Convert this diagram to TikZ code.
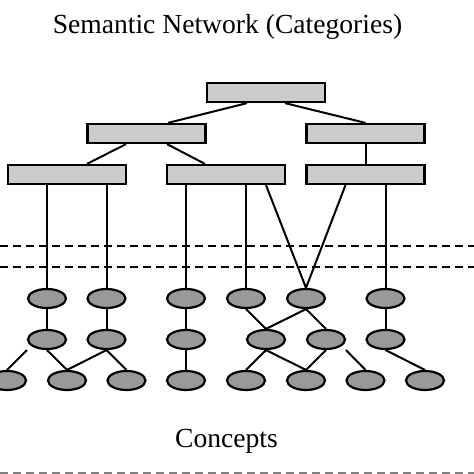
\documentclass[tikz,border=0pt]{standalone}
\usepackage{fontspec}
\setmainfont{Liberation Serif}
\usetikzlibrary{shapes.geometric}
\tikzset{
    basic/.style   = {draw, line width=2.2pt, inner sep=0pt},
    category/.style = {basic, rectangle, fill=black!20, minimum width=118pt, minimum height=19pt},
    concept/.style  = {basic, ellipse, fill=black!40, minimum width=38pt, minimum height=19pt},
    link/.style    = {line width=2pt},
    layer/.style   = {line width=2pt, dash pattern=on 8pt off 5pt},
    caption/.style = {font=\fontsize{27.6}{32}\selectfont, anchor=base}
}
\begin{document}
\begin{tikzpicture}[x=1pt, y=-1pt]
    \useasboundingbox (0,0) rectangle (474,474);
    % titles
    \node[caption] (title) at (227.5,33) {Semantic Network (Categories)};
    \node[caption] (bottom) at (226.5,447) {Concepts};
    % category tree
    \node[category] (c1)  at (266,92.5)    {};
    \node[category] (c21) at (146.5,133.5) {};
    \node[category] (c22) at (365.5,133.5) {};
    \node[category] (c31) at (67,174.5)    {};
    \node[category] (c32) at (226,174.5)   {};
    \node[category] (c33) at (365.5,174.5) {};
    % concepts
    \begin{scope}[every node/.style={concept}]
        \node (a1) at (47,298.5)  {};
        \node (a2) at (106.5,298.5) {};
        \node (a3) at (186,298.5) {};
        \node (a4) at (246,298.5) {};
        \node (a5) at (306,298.5) {};
        \node (a6) at (385.5,298.5) {};
        \node (b1) at (47,339.5)  {};
        \node (b2) at (106.5,339.5) {};
        \node (b3) at (186,339.5) {};
        \node (b4) at (266,339.5) {};
        \node (b5) at (326,339.5) {};
        \node (b6) at (385.5,339.5) {};
        \node (d1) at (7,380.5)   {};
        \node (d2) at (67,380.5)  {};
        \node (d3) at (126.5,380.5) {};
        \node (d4) at (186,380.5) {};
        \node (d5) at (246,380.5) {};
        \node (d6) at (306,380.5) {};
        \node (d7) at (365.5,380.5) {};
        \node (d8) at (425,380.5) {};
    \end{scope}
    % layer borders
    \coordinate (l1) at (0,246);   \coordinate (r1) at (474,246);
    \coordinate (l2) at (0,267);   \coordinate (r2) at (474,267);
    \coordinate (l3) at (0,472.5); \coordinate (r3) at (474,472.5);
    \draw[layer] (l1) -- (r1);
    \draw[layer] (l2) -- (r2);
    \draw[layer, black!50] (l3) -- (r3);
    % tree edges
    \begin{scope}[link]
        \draw ([xshift=-19pt]c1.south) -- ([xshift=21.5pt]c21.north);
        \draw ([xshift=19pt]c1.south) -- (c22.north);
        \draw ([xshift=-20.5pt]c21.south) -- ([xshift=20pt]c31.north);
        \draw ([xshift=20.5pt]c21.south) -- ([xshift=-21pt]c32.north);
        \draw (c22) -- (c33);
        % category to concept
        \draw (c31.south -| a1.north) -- (a1.north);
        \draw (c31.south -| a2.north) -- (a2.north);
        \draw (c32.south -| a3.north) -- (a3.north);
        \draw (c32.south -| a4.north) -- (a4.north);
        \draw ([xshift=40pt]c32.south) -- (a5.north);
        \draw ([xshift=-20pt]c33.south) -- (a5.north);
        \draw (c33.south -| a6.north) -- (a6.north);
        % concept links
        \draw (a1) -- (b1);
        \draw (a2) -- (b2);
        \draw (a3) -- (b3);
        \draw (a4.south) -- (b4.north);
        \draw (a5.south) -- (b4.north);
        \draw (a5.south) -- (b5.north);
        \draw (a6) -- (b6);
        \draw ([xshift=-20pt]b1.south) -- (d1.north);
        \draw (b1.south) -- (d2.north);
        \draw (b2.south) -- (d2.north);
        \draw (b2.south) -- (d3.north);
        \draw (b3) -- (d4);
        \draw (b4.south) -- (d5.north);
        \draw (b4.south) -- (d6.north);
        \draw (b5.south) -- (d6.north);
        \draw ([xshift=20pt]b5.south) -- (d7.north);
        \draw (b6.south) -- (d8.north);
    \end{scope}
\end{tikzpicture}
\end{document}
